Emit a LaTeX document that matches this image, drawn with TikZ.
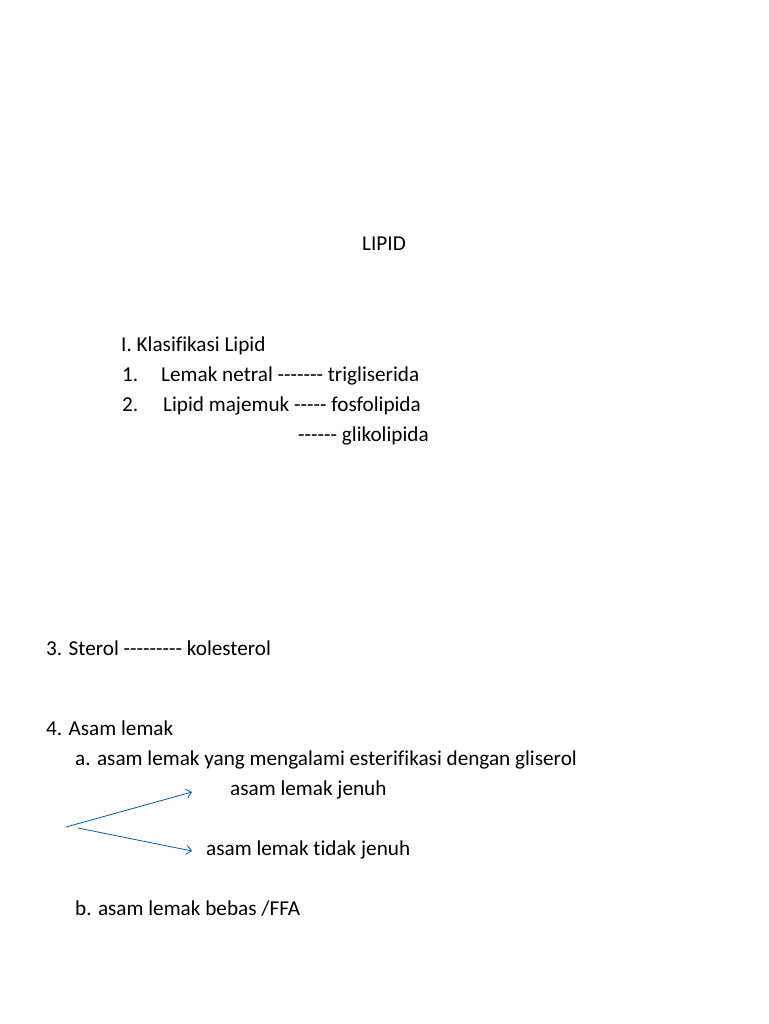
\documentclass[tikz,border=0pt]{standalone}
\usepackage{fontspec}
\setmainfont{Carlito}[Ligatures={TeXOff,NoCommon}]
\usetikzlibrary{arrows.meta}
\begin{document}
\begin{tikzpicture}[x=1pt,y=-1pt,
  txt/.style={anchor=base west,inner sep=0pt,font=\fontsize{21.2}{25}\selectfont},
  arr/.style={draw=blue!50!cyan!70!black,line width=0.8pt,-{Straight Barb[length=5pt,width=9pt]}}]
\useasboundingbox (0,0) rectangle (768,1024);
\node[txt,anchor=base] (t) at (384,250) {LIPID};
\node[txt] (k) at (121,351) {I. Klasifikasi Lipid};
\node[txt] (n1) at (122,381) {1.};
\node[txt] (l1) at (161,381) {Lemak netral ------- trigliserida};
\node[txt] (n2) at (122,411) {2.};
\node[txt] (l2) at (163,411) {Lipid majemuk ----- fosfolipida};
\node[txt] (l3) at (298,441) {------ glikolipida};
\node[txt] (s) at (46,655) {3. Sterol --------- kolesterol};
\node[txt] (a4) at (46,735) {4. Asam lemak};
\node[txt] (aa) at (75,765) {a. asam lemak yang mengalami esterifikasi dengan gliserol};
\node[txt] (j) at (230,795) {asam lemak jenuh};
\node[txt] (tj) at (206,855) {asam lemak tidak jenuh};
\node[txt] (b) at (75,915) {b. asam lemak bebas /FFA};
\coordinate (o1) at (66,827);
\coordinate (o2) at (78,828);
\coordinate (e1) at (192,792);
\coordinate (e2) at (192,851);
\draw[arr] (o1) -- (e1);
\draw[arr] (o2) -- (e2);
\end{tikzpicture}
\end{document}
